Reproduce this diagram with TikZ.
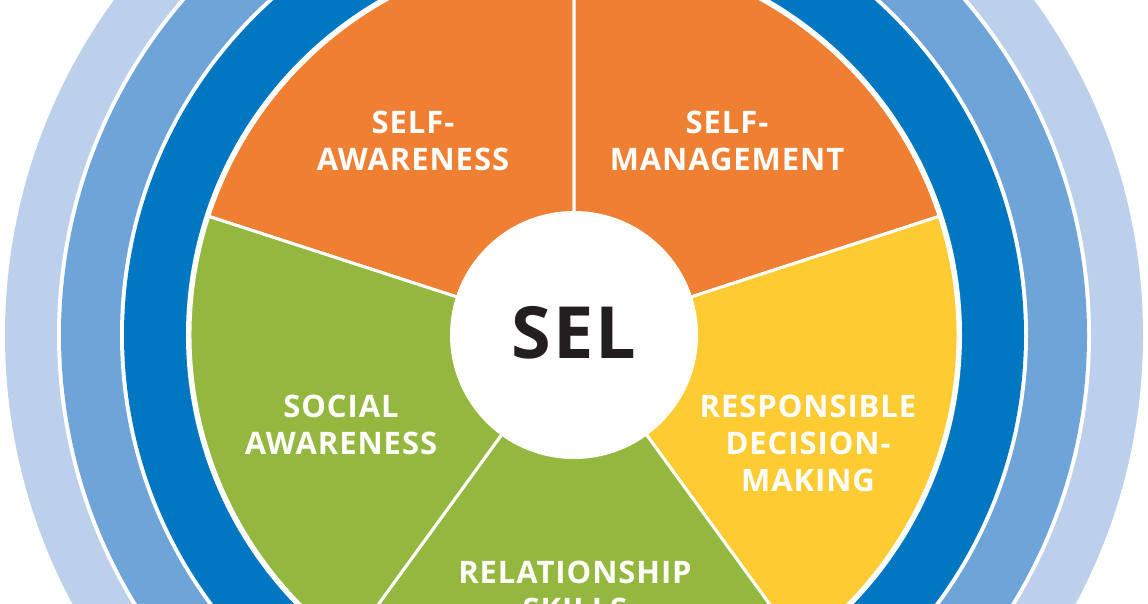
\documentclass[tikz,border=0pt]{standalone}
\usepackage{fontspec}
\setmainfont{Open Sans}[LetterSpace=3]
\definecolor{orng}{HTML}{EF8033}
\definecolor{yel}{HTML}{FFCB32}
\definecolor{grn}{HTML}{94B83F}
\definecolor{dblue}{HTML}{0077C0}
\definecolor{mblue}{HTML}{6FA4D8}
\definecolor{lblue}{HTML}{BCD0EC}
\definecolor{ink}{HTML}{231F20}
\begin{document}
\begin{tikzpicture}[x=1pt,y=-1pt,
  lab/.style={text=white,font=\bfseries\fontsize{31}{37}\selectfont,align=center},
  seg/.style={draw=white,line width=3pt}]
\useasboundingbox (0,0) rectangle (1148,603);
\begin{scope}
\clip (0,0) rectangle (1148,603);
\coordinate (c) at (574,335);
\fill[lblue] (c) circle (569);
\fill[white] (c) circle (517);
\fill[mblue] (c) circle (513);
\fill[white] (c) circle (454);
\fill[dblue] (c) circle (450);
\fill[white] (c) circle (388);
\filldraw[seg,fill=orng] (c) -- ++(-90:384) arc (-90:-162:384) -- cycle;
\filldraw[seg,fill=orng] (c) -- ++(-18:384) arc (-18:-90:384) -- cycle;
\filldraw[seg,fill=yel] (c) -- ++(54:384) arc (54:-18:384) -- cycle;
\filldraw[seg,fill=grn] (c) -- ++(126:384) arc (126:54:384) -- cycle;
\filldraw[seg,fill=grn] (c) -- ++(198:384) arc (198:126:384) -- cycle;
\node[circle,fill=white,minimum size=248pt,inner sep=0] (sel) at (c) {};
\node[text=ink,font=\bfseries\fontsize{72}{80}\selectfont] (selt) at (574,333) {SEL};
\node[lab] (sa) at (413,141) {SELF-\\AWARENESS};
\node[lab] (sm) at (727,141) {SELF-\\MANAGEMENT};
\node[lab] (soc) at (341,425) {SOCIAL\\AWARENESS};
\node[lab] (rdm) at (808,443) {RESPONSIBLE\\DECISION-\\MAKING};
\node[lab,anchor=north] (rs) at (575,557) {RELATIONSHIP\\SKILLS};
\end{scope}
\end{tikzpicture}
\end{document}
